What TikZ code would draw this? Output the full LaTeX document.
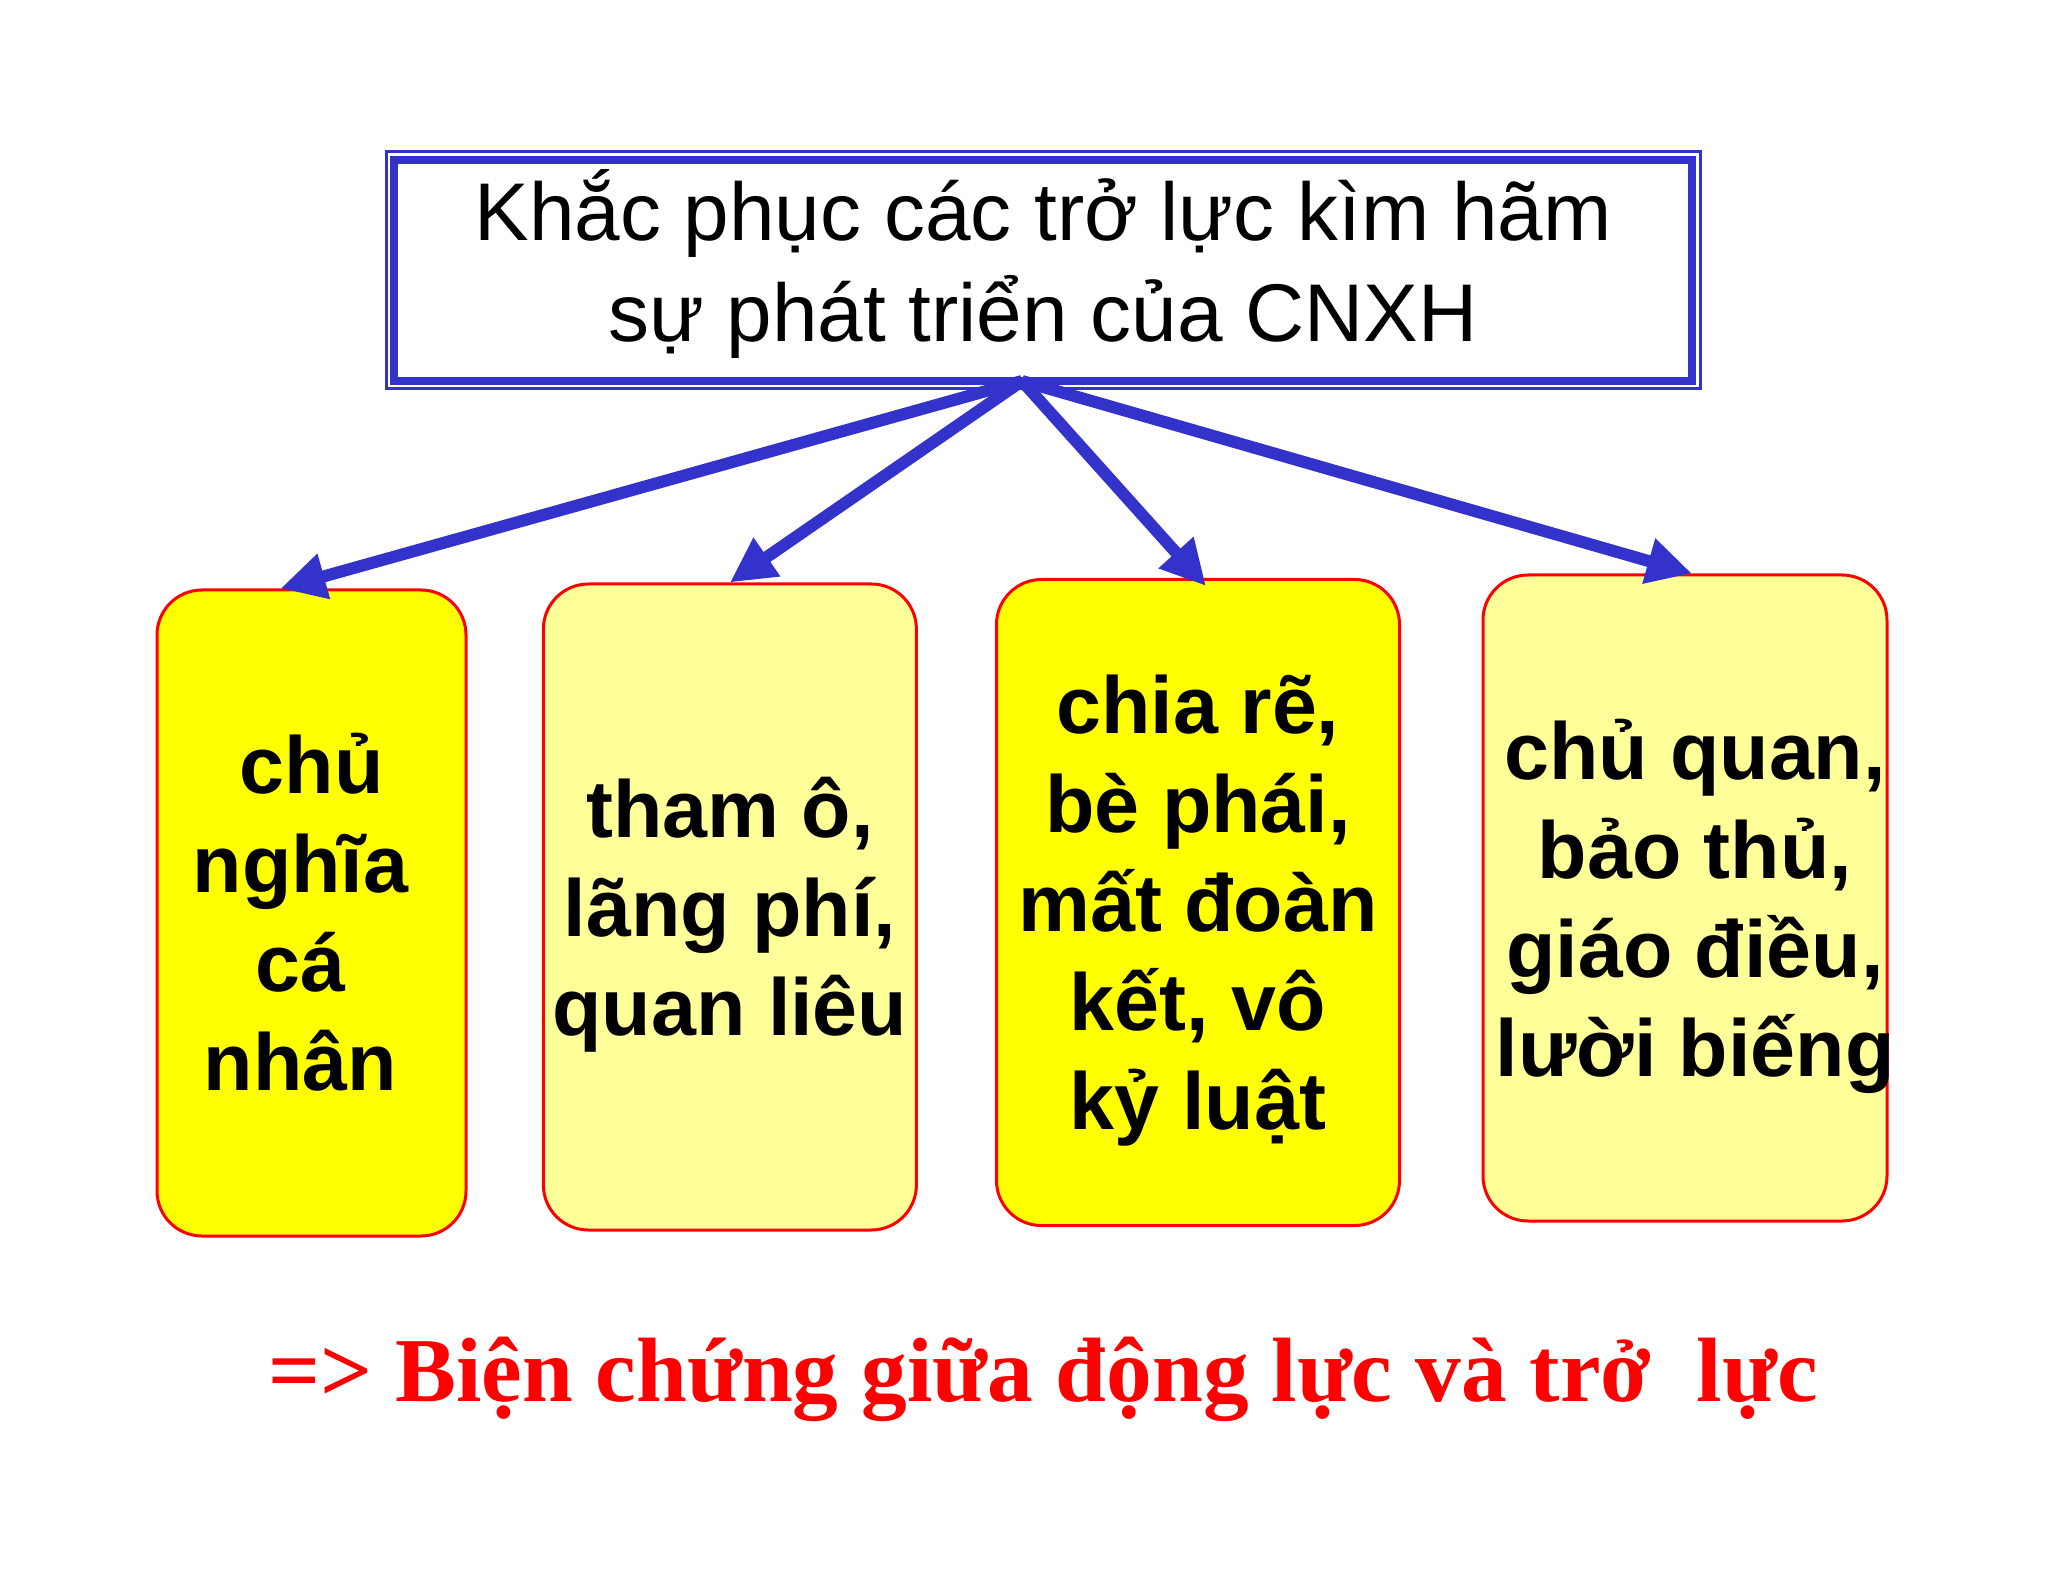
\documentclass[tikz,border=0pt]{standalone}
\usepackage{fontspec}
\setmainfont{Liberation Sans}
\newfontfamily\timesfont{Liberation Serif}
\usepackage{tikz}
\usetikzlibrary{arrows.meta,calc,positioning}
\definecolor{brightyellow}{HTML}{FFFF00}
\definecolor{paleyellow}{HTML}{FFFF99}
\definecolor{linkblue}{HTML}{3333CC}

\begin{document}
\begin{tikzpicture}
    [goal/.style={draw=linkblue, line width=0.08cm, outer sep=0pt, inner sep=0pt,
    minimum width=12.98cm, minimum height=2.21cm, align=center,
    font=\fontsize{23.3}{28.8}\selectfont},
    cause/.style={draw=red, line width=0.03cm, rounded corners=0.45cm,
    minimum height=6.46cm, inner sep=0pt},
    say/.style={align=center, font=\bfseries\fontsize{23}{28.2}\selectfont},
    flow/.style={draw=linkblue, line width=0.12cm,
    -{Triangle[length=4.5mm,width=4.4mm]}},
    result/.style={text=red, anchor=base,
    font=\timesfont\bfseries\fontsize{26}{30}\selectfont}]

  \useasboundingbox (0,0) rectangle (20.48,-15.82);

  \node[goal] (goal) at (10.43,-2.705)
    {\strut Khắc phục các trở lực kìm hãm\\ sự phát triển của CNXH\strut};
  \draw[linkblue, line width=0.03cm]
    ([shift={(-0.08,-0.08)}]goal.south west) rectangle ([shift={(0.08,0.08)}]goal.north east);

  \node[cause, fill=brightyellow, minimum width=3.09cm] (b1) at (3.115,-9.13) {};
  \node[cause, fill=paleyellow, minimum width=3.73cm, right=0.744cm of b1, yshift=0.06cm] (b2) {};
  \node[cause, fill=brightyellow, minimum width=4.03cm, right=0.771cm of b2, yshift=0.045cm] (b3) {};
  \node[cause, fill=paleyellow, minimum width=4.04cm, right=0.805cm of b3, yshift=0.045cm] (b4) {};

  \node[say] (t1) at ([shift={(-0.11,-0.09)}]b1.center) {\strut\ chủ\\nghĩa\\cá\\nhân\strut};
  \node[say] (t2) at ([yshift=-0.1cm]b2.center) {\strut tham ô,\\lãng phí,\\quan liêu\strut};
  \node[say] (t3) at ([yshift=-0.09cm]b3.center) {\strut chia rẽ,\\bè phái,\\mất đoàn\\kết, vô\\kỷ luật\strut};
  \node[say] (t4) at ([shift={(0.1,-0.1)}]b4.center) {\strut chủ quan,\\bảo thủ,\\giáo điều,\\lười biếng\strut};

  \coordinate (hub) at ([xshift=-0.21cm]goal.south);
  \draw[flow] (hub) -- ([xshift=-0.31cm]b1.north);
  \draw[flow] (hub) -- (b2.north);
  \draw[flow] (hub) -- ([shift={(0.08,-0.08)}]b3.north);
  \draw[flow] (hub) -- ([xshift=0.07cm]b4.north);

  \node[result] (moral) at (10.43,-14.01) {=> Biện chứng giữa động lực và trở\ \ lực};

\end{tikzpicture}
\end{document}
